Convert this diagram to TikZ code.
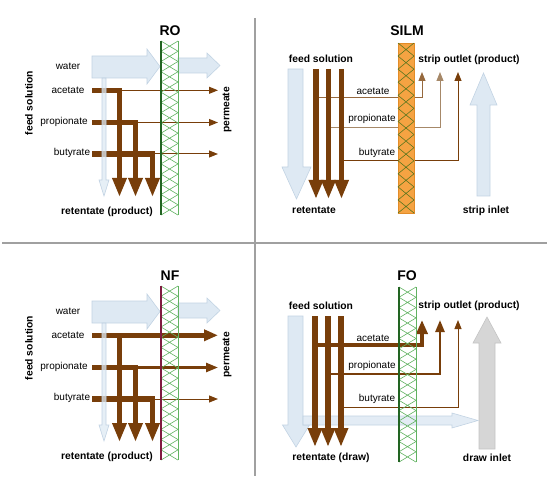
\documentclass[tikz,border=0pt]{standalone}
\usepackage{fontspec}
\setmainfont{Liberation Sans}
\usetikzlibrary{arrows.meta}

\begin{document}
\begin{tikzpicture}[x=1pt,y=1pt,yscale=-1,xscale=1,
  sep/.style={draw={rgb, 255:red, 160; green, 160; blue, 160}, line width=1.4pt},
  lightflow/.style={draw={rgb, 255:red, 194; green, 211; blue, 227}, fill={rgb, 255:red, 222; green, 233; blue, 243}, line width=0.6pt},
  greyflow/.style={draw={rgb, 255:red, 196; green, 196; blue, 196}, fill={rgb, 255:red, 214; green, 214; blue, 214}, line width=0.6pt},
  brownflow/.style={draw={rgb, 255:red, 120; green, 62; blue, 10}, line width=5.5pt, -{Triangle[width=13.5pt,length=19pt]}},
  thinflow/.style={draw={rgb, 255:red, 120; green, 62; blue, 10}, line width=1pt, -{Triangle[width=7pt,length=9pt]}},
  midflow/.style={draw={rgb, 255:red, 120; green, 62; blue, 10}, line width=2.5pt, -{Triangle[width=9pt,length=12pt]}},
  wideflow/.style={draw={rgb, 255:red, 120; green, 62; blue, 10}, line width=4.5pt, -{Triangle[width=11pt,length=14pt]}},
  hatch/.style={draw={rgb, 255:red, 96; green, 178; blue, 96}, line width=0.6pt},
  silmhatch/.style={draw={rgb, 255:red, 92; green, 118; blue, 30}, line width=0.6pt},
  silmband/.style={draw={rgb, 255:red, 226; green, 140; blue, 40}, fill={rgb, 255:red, 245; green, 163; blue, 66}, line width=0.6pt},
  greenline/.style={draw={rgb, 255:red, 34; green, 100; blue, 34}, line width=1.5pt},
  maroonline/.style={draw={rgb, 255:red, 128; green, 28; blue, 64}, line width=1.5pt},
  ptitle/.style={inner sep=0pt, font=\fontsize{14}{16}\selectfont\bfseries},
  blab/.style={inner sep=0pt, font=\fontsize{10.3}{12}\selectfont\bfseries},
  lab/.style={inner sep=0pt, font=\fontsize{10}{12}\selectfont}
]
\useasboundingbox (0,0) rectangle (550,495);

%Straight Lines: panel separators
\draw[sep] (255,18) -- (255,476);
\draw[sep] (2,243) -- (547,243);

%%%%%%%%%%%%%%%% RO and NF (same layout, NF shifted down)
\foreach \dy/\memb/\wa/\wp/\wb/\nm in {0/greenline/thinflow/thinflow/thinflow/RO, 245/maroonline/wideflow/midflow/thinflow/NF} {
\begin{scope}[shift={(0,\dy)}]
%Shape: Arrow (water to membrane)
\draw[lightflow] (92,56) -- (147,56) -- (147,49) -- (160,66.5) -- (147,84) -- (147,78) -- (92,78) -- cycle;
%Shape: Arrow (water in permeate)
\draw[lightflow] (178,58) -- (207,58) -- (207,53) -- (220,65.5) -- (207,78) -- (207,73) -- (178,73) -- cycle;
%Straight Lines: acids through the membrane
\draw[\wa] (118,90.3) -- (218,90.3);
\draw[\wp] (134,122.5) -- (218,122.5);
\draw[\wb] (151,154) -- (218,154);
%Straight Lines: acids kept in the retentate
\draw[brownflow] (92,90.3) -- (119.5,90.3) -- (119.5,197);
\draw[brownflow] (92,122.5) -- (135.5,122.5) -- (135.5,197);
\draw[brownflow] (92,154) -- (152.5,154) -- (152.5,197);
%Shape: Arrow (water in retentate)
\draw[lightflow, fill opacity=0.75] (102,78) -- (106,78) -- (106,180) -- (109,180) -- (104,196) -- (99,180) -- (102,180) -- cycle;
%Shape: membrane
\foreach \i in {0,...,16}
  \draw[hatch] (161,41+\i*10.24) -- (178,41+\i*10.24+10.24) (178,41+\i*10.24) -- (161,41+\i*10.24+10.24);
\draw[hatch] (178,41) -- (178,215);
\draw[\memb] (161,41) -- (161,215);
%Text
\node[ptitle] (title\nm) at (170,31) {\nm};
\node[lab] (water\nm) at (68,66) {water};
\node[lab] (acetate\nm) at (68,90) {acetate};
\node[lab] (propionate\nm) at (64,122) {propionate};
\node[lab] (butyrate\nm) at (72,153) {butyrate};
\node[blab, rotate=90] (feed\nm) at (29,103) {feed solution};
\node[blab, rotate=90] (permeate\nm) at (227,110) {permeate};
\node[blab] (retentate\nm) at (107,211.5) {retentate (product)};
\end{scope}
}

%%%%%%%%%%%%%%%% SILM
%Shape: Arrow (feed solution)
\draw[lightflow] (288,69) -- (303,69) -- (303,167) -- (311,167) -- (296.5,199) -- (282,167) -- (288,167) -- cycle;
%Shape: Arrow (strip inlet)
\draw[lightflow] (477,196) -- (490,196) -- (490,105) -- (497,105) -- (483.5,73) -- (470,105) -- (477,105) -- cycle;
%Straight Lines: acids to the strip
\draw[thinflow, draw={rgb, 255:red, 150; green, 105; blue, 62}] (316,98) -- (422,98) -- (422,72);
\draw[thinflow, draw={rgb, 255:red, 166; green, 136; blue, 104}] (328.5,128) -- (440,128) -- (440,72);
\draw[thinflow] (341.5,161) -- (458,161) -- (458,72);
%Straight Lines: feed acids
\foreach \x in {316,328.5,341.5}
  \draw[brownflow] (\x,69) -- (\x,199);
%Shape: supported liquid membrane
\draw[silmband] (398,43) rectangle (414,213);
\foreach \i in {0,...,12}
  \draw[silmhatch] (398,43+\i*13.08) -- (414,43+\i*13.08+13.08) (414,43+\i*13.08) -- (398,43+\i*13.08+13.08);
%Text
\node[ptitle] (titleSILM) at (407,31) {SILM};
\node[blab] (feedSILM) at (321,59) {feed solution};
\node[blab] (stripSILM) at (469,60) {strip outlet (product)};
\node[lab] (acetateSILM) at (373,91) {acetate};
\node[lab] (propionateSILM) at (372,119) {propionate};
\node[lab] (butyrateSILM) at (377,153) {butyrate};
\node[blab] (retentateSILM) at (314,210.5) {retentate};
\node[blab] (inletSILM) at (486,210.5) {strip inlet};

%%%%%%%%%%%%%%%% FO
%Shape: Arrow (feed solution)
\draw[lightflow] (288,316) -- (303,316) -- (303,425) -- (309.5,425) -- (296,447) -- (282.5,425) -- (288,425) -- cycle;
%Shape: Arrow (draw inlet)
\draw[greyflow] (479,449) -- (495,449) -- (495,343) -- (501,343) -- (487,317) -- (473,343) -- (479,343) -- cycle;
%Shape: Arrow (water to the draw)
\draw[lightflow, fill opacity=0.85] (303,416) -- (452,416) -- (452,413) -- (478,420.5) -- (452,428) -- (452,425) -- (303,425) -- cycle;
%Straight Lines: acids to the draw
\draw[wideflow] (315,345) -- (422,345) -- (422,320);
\draw[midflow] (328,374) -- (440,374) -- (440,320);
\draw[thinflow] (341,407) -- (458,407) -- (458,320);
%Straight Lines: feed acids
\foreach \x in {315,328,341}
  \draw[brownflow] (\x,316) -- (\x,447);
%Shape: membrane
\foreach \i in {0,...,16}
  \draw[hatch] (399,287+\i*10.3) -- (416,287+\i*10.3+10.3) (416,287+\i*10.3) -- (399,287+\i*10.3+10.3);
\draw[hatch] (416,287) -- (416,462);
\draw[greenline] (399,287) -- (399,462);
%Text
\node[ptitle] (titleFO) at (407,276) {FO};
\node[blab] (feedFO) at (321,306) {feed solution};
\node[blab] (stripFO) at (469,306) {strip outlet (product)};
\node[lab] (acetateFO) at (373,338) {acetate};
\node[lab] (propionateFO) at (372,366) {propionate};
\node[lab] (butyrateFO) at (377,399) {butyrate};
\node[blab] (retentateFO) at (331,458) {retentate (draw)};
\node[blab] (inletFO) at (487,458) {draw inlet};

\end{tikzpicture}
\end{document}
